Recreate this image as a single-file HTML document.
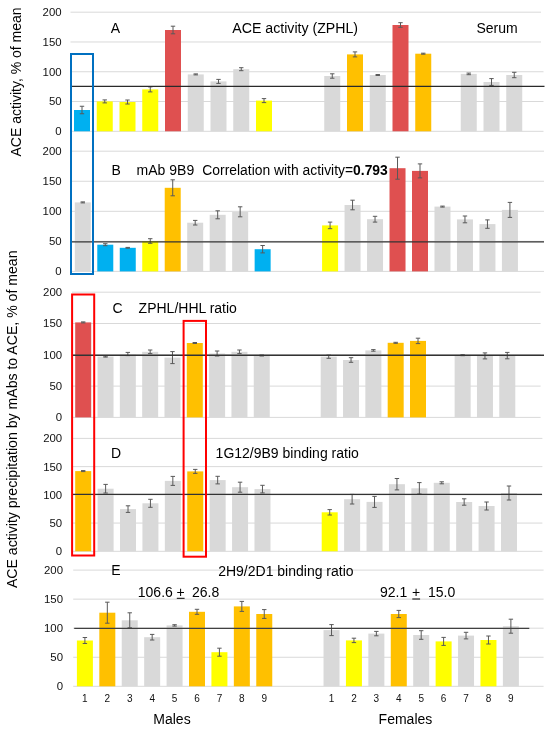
<!DOCTYPE html><html><head><meta charset="utf-8"><style>html,body{margin:0;padding:0;background:#fff;}svg{display:block;will-change:transform;filter:blur(0.3px);}text{font-family:"Liberation Sans", sans-serif;}</style></head><body>
<svg width="550" height="729" viewBox="0 0 550 729">
<rect width="550" height="729" fill="#fff"/>
<line x1="70.5" y1="131.3" x2="543.5" y2="131.3" stroke="#d9d9d9" stroke-width="1"/>
<line x1="70.5" y1="101.53" x2="543.5" y2="101.53" stroke="#d9d9d9" stroke-width="1"/>
<line x1="70.5" y1="71.75" x2="543.5" y2="71.75" stroke="#d9d9d9" stroke-width="1"/>
<line x1="70.5" y1="41.98" x2="541" y2="41.98" stroke="#d9d9d9" stroke-width="1"/>
<line x1="70.5" y1="12.2" x2="541" y2="12.2" stroke="#d9d9d9" stroke-width="1"/>
<text x="61.6" y="135.2" font-size="11.4" text-anchor="end" fill="#111">0</text>
<text x="61.6" y="105.43" font-size="11.4" text-anchor="end" fill="#111">50</text>
<text x="61.6" y="75.65" font-size="11.4" text-anchor="end" fill="#111">100</text>
<text x="61.6" y="45.88" font-size="11.4" text-anchor="end" fill="#111">150</text>
<text x="61.6" y="16.1" font-size="11.4" text-anchor="end" fill="#111">200</text>
<rect x="74" y="110" width="16" height="21.3" fill="#00b0f0"/>
<rect x="96.75" y="101.4" width="16" height="29.9" fill="#ffff00"/>
<rect x="119.5" y="102" width="16" height="29.3" fill="#ffff00"/>
<rect x="142.25" y="89.4" width="16" height="41.9" fill="#ffff00"/>
<rect x="165" y="30" width="16" height="101.3" fill="#df5050"/>
<rect x="187.75" y="74.4" width="16" height="56.9" fill="#d9d9d9"/>
<rect x="210.5" y="81.4" width="16" height="49.9" fill="#d9d9d9"/>
<rect x="233.25" y="69.2" width="16" height="62.1" fill="#d9d9d9"/>
<rect x="256" y="100.6" width="16" height="30.7" fill="#ffff00"/>
<rect x="324.25" y="76" width="16" height="55.3" fill="#d9d9d9"/>
<rect x="347" y="54.4" width="16" height="76.9" fill="#ffc000"/>
<rect x="369.75" y="75" width="16" height="56.3" fill="#d9d9d9"/>
<rect x="392.5" y="25" width="16" height="106.3" fill="#df5050"/>
<rect x="415.25" y="53.7" width="16" height="77.6" fill="#ffc000"/>
<rect x="460.75" y="73.9" width="16" height="57.4" fill="#d9d9d9"/>
<rect x="483.5" y="82" width="16" height="49.3" fill="#d9d9d9"/>
<rect x="506.25" y="75" width="16" height="56.3" fill="#d9d9d9"/>
<path d="M82 106.25V113.75M79.8 106.25H84.2M79.8 113.75H84.2" stroke="#595959" stroke-width="1" fill="none"/>
<path d="M104.75 99.9V102.9M102.55 99.9H106.95M102.55 102.9H106.95" stroke="#595959" stroke-width="1" fill="none"/>
<path d="M127.5 100V104M125.3 100H129.7M125.3 104H129.7" stroke="#595959" stroke-width="1" fill="none"/>
<path d="M150.25 86.9V91.9M148.05 86.9H152.45M148.05 91.9H152.45" stroke="#595959" stroke-width="1" fill="none"/>
<path d="M173 26.2V33.8M170.8 26.2H175.2M170.8 33.8H175.2" stroke="#595959" stroke-width="1" fill="none"/>
<path d="M195.75 73.9V74.9M193.55 73.9H197.95M193.55 74.9H197.95" stroke="#595959" stroke-width="1" fill="none"/>
<path d="M218.5 79.4V83.4M216.3 79.4H220.7M216.3 83.4H220.7" stroke="#595959" stroke-width="1" fill="none"/>
<path d="M241.25 67.7V70.7M239.05 67.7H243.45M239.05 70.7H243.45" stroke="#595959" stroke-width="1" fill="none"/>
<path d="M264 98.6V102.6M261.8 98.6H266.2M261.8 102.6H266.2" stroke="#595959" stroke-width="1" fill="none"/>
<path d="M332.25 73.8V78.2M330.05 73.8H334.45M330.05 78.2H334.45" stroke="#595959" stroke-width="1" fill="none"/>
<path d="M355 51.9V56.9M352.8 51.9H357.2M352.8 56.9H357.2" stroke="#595959" stroke-width="1" fill="none"/>
<path d="M377.75 74.5V75.5M375.55 74.5H379.95M375.55 75.5H379.95" stroke="#595959" stroke-width="1" fill="none"/>
<path d="M400.5 22.7V27.3M398.3 22.7H402.7M398.3 27.3H402.7" stroke="#595959" stroke-width="1" fill="none"/>
<path d="M423.25 53.2V54.2M421.05 53.2H425.45M421.05 54.2H425.45" stroke="#595959" stroke-width="1" fill="none"/>
<path d="M468.75 73.1V74.7M466.55 73.1H470.95M466.55 74.7H470.95" stroke="#595959" stroke-width="1" fill="none"/>
<path d="M491.5 78.6V85.4M489.3 78.6H493.7M489.3 85.4H493.7" stroke="#595959" stroke-width="1" fill="none"/>
<path d="M514.25 72.3V77.7M512.05 72.3H516.45M512.05 77.7H516.45" stroke="#595959" stroke-width="1" fill="none"/>
<line x1="71" y1="86.4" x2="544.5" y2="86.4" stroke="#2a2a2a" stroke-width="1.4"/>
<line x1="70.5" y1="271.4" x2="544" y2="271.4" stroke="#d9d9d9" stroke-width="1"/>
<line x1="70.5" y1="241.35" x2="544" y2="241.35" stroke="#d9d9d9" stroke-width="1"/>
<line x1="70.5" y1="211.3" x2="544" y2="211.3" stroke="#d9d9d9" stroke-width="1"/>
<line x1="70.5" y1="181.25" x2="544" y2="181.25" stroke="#d9d9d9" stroke-width="1"/>
<line x1="70.5" y1="151.2" x2="544" y2="151.2" stroke="#d9d9d9" stroke-width="1"/>
<text x="61.6" y="275.3" font-size="11.4" text-anchor="end" fill="#111">0</text>
<text x="61.6" y="245.25" font-size="11.4" text-anchor="end" fill="#111">50</text>
<text x="61.6" y="215.2" font-size="11.4" text-anchor="end" fill="#111">100</text>
<text x="61.6" y="185.15" font-size="11.4" text-anchor="end" fill="#111">150</text>
<text x="61.6" y="155.1" font-size="11.4" text-anchor="end" fill="#111">200</text>
<rect x="74.8" y="202.4" width="16" height="69" fill="#d9d9d9"/>
<rect x="97.28" y="244.7" width="16" height="26.7" fill="#00b0f0"/>
<rect x="119.76" y="247.8" width="16" height="23.6" fill="#00b0f0"/>
<rect x="142.24" y="241" width="16" height="30.4" fill="#ffff00"/>
<rect x="164.72" y="187.8" width="16" height="83.6" fill="#ffc000"/>
<rect x="187.2" y="222.7" width="16" height="48.7" fill="#d9d9d9"/>
<rect x="209.68" y="214.8" width="16" height="56.6" fill="#d9d9d9"/>
<rect x="232.16" y="211.8" width="16" height="59.6" fill="#d9d9d9"/>
<rect x="254.64" y="249.2" width="16" height="22.2" fill="#00b0f0"/>
<rect x="322.08" y="225.4" width="16" height="46" fill="#ffff00"/>
<rect x="344.56" y="205" width="16" height="66.4" fill="#d9d9d9"/>
<rect x="367.04" y="219.2" width="16" height="52.2" fill="#d9d9d9"/>
<rect x="389.52" y="168.2" width="16" height="103.2" fill="#df5050"/>
<rect x="412" y="170.9" width="16" height="100.5" fill="#df5050"/>
<rect x="434.48" y="206.6" width="16" height="64.8" fill="#d9d9d9"/>
<rect x="456.96" y="219.4" width="16" height="52" fill="#d9d9d9"/>
<rect x="479.44" y="224.1" width="16" height="47.3" fill="#d9d9d9"/>
<rect x="501.92" y="209.9" width="16" height="61.5" fill="#d9d9d9"/>
<path d="M82.8 201.9V202.9M80.6 201.9H85M80.6 202.9H85" stroke="#595959" stroke-width="1" fill="none"/>
<path d="M105.28 243.7V245.7M103.08 243.7H107.48M103.08 245.7H107.48" stroke="#595959" stroke-width="1" fill="none"/>
<path d="M127.76 247.4V248.2M125.56 247.4H129.96M125.56 248.2H129.96" stroke="#595959" stroke-width="1" fill="none"/>
<path d="M150.24 238.7V243.3M148.04 238.7H152.44M148.04 243.3H152.44" stroke="#595959" stroke-width="1" fill="none"/>
<path d="M172.72 179.8V195.8M170.52 179.8H174.92M170.52 195.8H174.92" stroke="#595959" stroke-width="1" fill="none"/>
<path d="M195.2 220.4V225M193 220.4H197.4M193 225H197.4" stroke="#595959" stroke-width="1" fill="none"/>
<path d="M217.68 210.8V218.8M215.48 210.8H219.88M215.48 218.8H219.88" stroke="#595959" stroke-width="1" fill="none"/>
<path d="M240.16 206.8V216.8M237.96 206.8H242.36M237.96 216.8H242.36" stroke="#595959" stroke-width="1" fill="none"/>
<path d="M262.64 245.5V252.9M260.44 245.5H264.84M260.44 252.9H264.84" stroke="#595959" stroke-width="1" fill="none"/>
<path d="M330.08 222.1V228.7M327.88 222.1H332.28M327.88 228.7H332.28" stroke="#595959" stroke-width="1" fill="none"/>
<path d="M352.56 200.2V209.8M350.36 200.2H354.76M350.36 209.8H354.76" stroke="#595959" stroke-width="1" fill="none"/>
<path d="M375.04 216.3V222.1M372.84 216.3H377.24M372.84 222.1H377.24" stroke="#595959" stroke-width="1" fill="none"/>
<path d="M397.52 157.2V179.2M395.32 157.2H399.72M395.32 179.2H399.72" stroke="#595959" stroke-width="1" fill="none"/>
<path d="M420 163.9V177.9M417.8 163.9H422.2M417.8 177.9H422.2" stroke="#595959" stroke-width="1" fill="none"/>
<path d="M442.48 206.1V207.1M440.28 206.1H444.68M440.28 207.1H444.68" stroke="#595959" stroke-width="1" fill="none"/>
<path d="M464.96 216V222.8M462.76 216H467.16M462.76 222.8H467.16" stroke="#595959" stroke-width="1" fill="none"/>
<path d="M487.44 219.9V228.3M485.24 219.9H489.64M485.24 228.3H489.64" stroke="#595959" stroke-width="1" fill="none"/>
<path d="M509.92 202.4V217.4M507.72 202.4H512.12M507.72 217.4H512.12" stroke="#595959" stroke-width="1" fill="none"/>
<line x1="71" y1="241.9" x2="544" y2="241.9" stroke="#333333" stroke-width="1.35"/>
<line x1="72" y1="417.4" x2="540.6" y2="417.4" stroke="#d9d9d9" stroke-width="1"/>
<line x1="72" y1="386.1" x2="540.6" y2="386.1" stroke="#d9d9d9" stroke-width="1"/>
<line x1="72" y1="354.8" x2="540.6" y2="354.8" stroke="#d9d9d9" stroke-width="1"/>
<line x1="72" y1="323.5" x2="540.6" y2="323.5" stroke="#d9d9d9" stroke-width="1"/>
<line x1="72" y1="292.2" x2="540.6" y2="292.2" stroke="#d9d9d9" stroke-width="1"/>
<text x="62.1" y="421.3" font-size="11.4" text-anchor="end" fill="#111">0</text>
<text x="62.1" y="390" font-size="11.4" text-anchor="end" fill="#111">50</text>
<text x="62.1" y="358.7" font-size="11.4" text-anchor="end" fill="#111">100</text>
<text x="62.1" y="327.4" font-size="11.4" text-anchor="end" fill="#111">150</text>
<text x="62.1" y="296.1" font-size="11.4" text-anchor="end" fill="#111">200</text>
<rect x="75.2" y="322.4" width="16" height="95" fill="#df5050"/>
<rect x="97.52" y="356.6" width="16" height="60.8" fill="#d9d9d9"/>
<rect x="119.84" y="354" width="16" height="63.4" fill="#d9d9d9"/>
<rect x="142.16" y="351.8" width="16" height="65.6" fill="#d9d9d9"/>
<rect x="164.48" y="357.6" width="16" height="59.8" fill="#d9d9d9"/>
<rect x="186.8" y="343" width="16" height="74.4" fill="#ffc000"/>
<rect x="209.12" y="353.5" width="16" height="63.9" fill="#d9d9d9"/>
<rect x="231.44" y="351.8" width="16" height="65.6" fill="#d9d9d9"/>
<rect x="253.76" y="355.5" width="16" height="61.9" fill="#d9d9d9"/>
<rect x="320.72" y="356.7" width="16" height="60.7" fill="#d9d9d9"/>
<rect x="343.04" y="360" width="16" height="57.4" fill="#d9d9d9"/>
<rect x="365.36" y="350.4" width="16" height="67" fill="#d9d9d9"/>
<rect x="387.68" y="342.8" width="16" height="74.6" fill="#ffc000"/>
<rect x="410" y="340.9" width="16" height="76.5" fill="#ffc000"/>
<rect x="454.64" y="355.2" width="16" height="62.2" fill="#d9d9d9"/>
<rect x="476.96" y="355.9" width="16" height="61.5" fill="#d9d9d9"/>
<rect x="499.28" y="355.6" width="16" height="61.8" fill="#d9d9d9"/>
<path d="M83.2 321.9V322.9M81 321.9H85.4M81 322.9H85.4" stroke="#595959" stroke-width="1" fill="none"/>
<path d="M105.52 356.1V357.1M103.32 356.1H107.72M103.32 357.1H107.72" stroke="#595959" stroke-width="1" fill="none"/>
<path d="M127.84 352.4V355.6M125.64 352.4H130.04M125.64 355.6H130.04" stroke="#595959" stroke-width="1" fill="none"/>
<path d="M150.16 350V353.6M147.96 350H152.36M147.96 353.6H152.36" stroke="#595959" stroke-width="1" fill="none"/>
<path d="M172.48 351.6V363.6M170.28 351.6H174.68M170.28 363.6H174.68" stroke="#595959" stroke-width="1" fill="none"/>
<path d="M194.8 342.5V343.5M192.6 342.5H197M192.6 343.5H197" stroke="#595959" stroke-width="1" fill="none"/>
<path d="M217.12 351V356M214.92 351H219.32M214.92 356H219.32" stroke="#595959" stroke-width="1" fill="none"/>
<path d="M239.44 350V353.6M237.24 350H241.64M237.24 353.6H241.64" stroke="#595959" stroke-width="1" fill="none"/>
<path d="M261.76 355V356M259.56 355H263.96M259.56 356H263.96" stroke="#595959" stroke-width="1" fill="none"/>
<path d="M328.72 355.1V358.3M326.52 355.1H330.92M326.52 358.3H330.92" stroke="#595959" stroke-width="1" fill="none"/>
<path d="M351.04 357.7V362.3M348.84 357.7H353.24M348.84 362.3H353.24" stroke="#595959" stroke-width="1" fill="none"/>
<path d="M373.36 349.6V351.2M371.16 349.6H375.56M371.16 351.2H375.56" stroke="#595959" stroke-width="1" fill="none"/>
<path d="M395.68 342.3V343.3M393.48 342.3H397.88M393.48 343.3H397.88" stroke="#595959" stroke-width="1" fill="none"/>
<path d="M418 338.2V343.6M415.8 338.2H420.2M415.8 343.6H420.2" stroke="#595959" stroke-width="1" fill="none"/>
<path d="M462.64 354.7V355.7M460.44 354.7H464.84M460.44 355.7H464.84" stroke="#595959" stroke-width="1" fill="none"/>
<path d="M484.96 352.9V358.9M482.76 352.9H487.16M482.76 358.9H487.16" stroke="#595959" stroke-width="1" fill="none"/>
<path d="M507.28 352.4V358.8M505.08 352.4H509.48M505.08 358.8H509.48" stroke="#595959" stroke-width="1" fill="none"/>
<line x1="72" y1="355.2" x2="544" y2="355.2" stroke="#333333" stroke-width="1.35"/>
<line x1="72" y1="551.3" x2="542.4" y2="551.3" stroke="#d9d9d9" stroke-width="1"/>
<line x1="72" y1="523.07" x2="542.4" y2="523.07" stroke="#d9d9d9" stroke-width="1"/>
<line x1="72" y1="494.85" x2="542.4" y2="494.85" stroke="#d9d9d9" stroke-width="1"/>
<line x1="72" y1="466.62" x2="542.4" y2="466.62" stroke="#d9d9d9" stroke-width="1"/>
<line x1="72" y1="438.4" x2="542.4" y2="438.4" stroke="#d9d9d9" stroke-width="1"/>
<text x="62.2" y="555.2" font-size="11.4" text-anchor="end" fill="#111">0</text>
<text x="62.2" y="526.97" font-size="11.4" text-anchor="end" fill="#111">50</text>
<text x="62.2" y="498.75" font-size="11.4" text-anchor="end" fill="#111">100</text>
<text x="62.2" y="470.52" font-size="11.4" text-anchor="end" fill="#111">150</text>
<text x="62.2" y="442.3" font-size="11.4" text-anchor="end" fill="#111">200</text>
<rect x="75.2" y="471.1" width="16" height="80.2" fill="#ffc000"/>
<rect x="97.61" y="488.7" width="16" height="62.6" fill="#d9d9d9"/>
<rect x="120.02" y="509.1" width="16" height="42.2" fill="#d9d9d9"/>
<rect x="142.43" y="503.3" width="16" height="48" fill="#d9d9d9"/>
<rect x="164.84" y="480.9" width="16" height="70.4" fill="#d9d9d9"/>
<rect x="187.25" y="471.4" width="16" height="79.9" fill="#ffc000"/>
<rect x="209.66" y="480.1" width="16" height="71.2" fill="#d9d9d9"/>
<rect x="232.07" y="487.2" width="16" height="64.1" fill="#d9d9d9"/>
<rect x="254.48" y="489.1" width="16" height="62.2" fill="#d9d9d9"/>
<rect x="321.71" y="512.3" width="16" height="39" fill="#ffff00"/>
<rect x="344.12" y="499.2" width="16" height="52.1" fill="#d9d9d9"/>
<rect x="366.53" y="501.9" width="16" height="49.4" fill="#d9d9d9"/>
<rect x="388.94" y="484.2" width="16" height="67.1" fill="#d9d9d9"/>
<rect x="411.35" y="488.3" width="16" height="63" fill="#d9d9d9"/>
<rect x="433.76" y="482.8" width="16" height="68.5" fill="#d9d9d9"/>
<rect x="456.17" y="502" width="16" height="49.3" fill="#d9d9d9"/>
<rect x="478.58" y="506" width="16" height="45.3" fill="#d9d9d9"/>
<rect x="500.99" y="493" width="16" height="58.3" fill="#d9d9d9"/>
<path d="M83.2 470.6V471.6M81 470.6H85.4M81 471.6H85.4" stroke="#595959" stroke-width="1" fill="none"/>
<path d="M105.61 484.4V493M103.41 484.4H107.81M103.41 493H107.81" stroke="#595959" stroke-width="1" fill="none"/>
<path d="M128.02 505.8V512.4M125.82 505.8H130.22M125.82 512.4H130.22" stroke="#595959" stroke-width="1" fill="none"/>
<path d="M150.43 499.3V507.3M148.23 499.3H152.63M148.23 507.3H152.63" stroke="#595959" stroke-width="1" fill="none"/>
<path d="M172.84 476.4V485.4M170.64 476.4H175.04M170.64 485.4H175.04" stroke="#595959" stroke-width="1" fill="none"/>
<path d="M195.25 469.4V473.4M193.05 469.4H197.45M193.05 473.4H197.45" stroke="#595959" stroke-width="1" fill="none"/>
<path d="M217.66 476.3V483.9M215.46 476.3H219.86M215.46 483.9H219.86" stroke="#595959" stroke-width="1" fill="none"/>
<path d="M240.07 482.2V492.2M237.87 482.2H242.27M237.87 492.2H242.27" stroke="#595959" stroke-width="1" fill="none"/>
<path d="M262.48 485.3V492.9M260.28 485.3H264.68M260.28 492.9H264.68" stroke="#595959" stroke-width="1" fill="none"/>
<path d="M329.71 509.6V515M327.51 509.6H331.91M327.51 515H331.91" stroke="#595959" stroke-width="1" fill="none"/>
<path d="M352.12 494.4V504M349.92 494.4H354.32M349.92 504H354.32" stroke="#595959" stroke-width="1" fill="none"/>
<path d="M374.53 496.4V507.4M372.33 496.4H376.73M372.33 507.4H376.73" stroke="#595959" stroke-width="1" fill="none"/>
<path d="M396.94 478.5V489.9M394.74 478.5H399.14M394.74 489.9H399.14" stroke="#595959" stroke-width="1" fill="none"/>
<path d="M419.35 482.6V494M417.15 482.6H421.55M417.15 494H421.55" stroke="#595959" stroke-width="1" fill="none"/>
<path d="M441.76 481.8V483.8M439.56 481.8H443.96M439.56 483.8H443.96" stroke="#595959" stroke-width="1" fill="none"/>
<path d="M464.17 498.8V505.2M461.97 498.8H466.37M461.97 505.2H466.37" stroke="#595959" stroke-width="1" fill="none"/>
<path d="M486.58 502V510M484.38 502H488.78M484.38 510H488.78" stroke="#595959" stroke-width="1" fill="none"/>
<path d="M508.99 486V500M506.79 486H511.19M506.79 500H511.19" stroke="#595959" stroke-width="1" fill="none"/>
<line x1="72" y1="494.3" x2="542" y2="494.3" stroke="#333333" stroke-width="1.35"/>
<line x1="73.2" y1="686.3" x2="543.6" y2="686.3" stroke="#d9d9d9" stroke-width="1"/>
<line x1="73.2" y1="657.25" x2="543.6" y2="657.25" stroke="#d9d9d9" stroke-width="1"/>
<line x1="73.2" y1="628.2" x2="543.6" y2="628.2" stroke="#d9d9d9" stroke-width="1"/>
<line x1="73.2" y1="599.15" x2="543.6" y2="599.15" stroke="#d9d9d9" stroke-width="1"/>
<line x1="73.2" y1="570.1" x2="543.6" y2="570.1" stroke="#d9d9d9" stroke-width="1"/>
<text x="63" y="690.2" font-size="11.4" text-anchor="end" fill="#111">0</text>
<text x="63" y="661.15" font-size="11.4" text-anchor="end" fill="#111">50</text>
<text x="63" y="632.1" font-size="11.4" text-anchor="end" fill="#111">100</text>
<text x="63" y="603.05" font-size="11.4" text-anchor="end" fill="#111">150</text>
<text x="63" y="574" font-size="11.4" text-anchor="end" fill="#111">200</text>
<rect x="76.9" y="640.5" width="16" height="45.8" fill="#ffff00"/>
<rect x="99.32" y="612.7" width="16" height="73.6" fill="#ffc000"/>
<rect x="121.74" y="620.3" width="16" height="66" fill="#d9d9d9"/>
<rect x="144.16" y="637.2" width="16" height="49.1" fill="#d9d9d9"/>
<rect x="166.58" y="625.4" width="16" height="60.9" fill="#d9d9d9"/>
<rect x="189" y="611.8" width="16" height="74.5" fill="#ffc000"/>
<rect x="211.42" y="652.2" width="16" height="34.1" fill="#ffff00"/>
<rect x="233.84" y="606.4" width="16" height="79.9" fill="#ffc000"/>
<rect x="256.26" y="614" width="16" height="72.3" fill="#ffc000"/>
<rect x="323.52" y="630.1" width="16" height="56.2" fill="#d9d9d9"/>
<rect x="345.94" y="640.4" width="16" height="45.9" fill="#ffff00"/>
<rect x="368.36" y="633.6" width="16" height="52.7" fill="#d9d9d9"/>
<rect x="390.78" y="614" width="16" height="72.3" fill="#ffc000"/>
<rect x="413.2" y="635" width="16" height="51.3" fill="#d9d9d9"/>
<rect x="435.62" y="641.4" width="16" height="44.9" fill="#ffff00"/>
<rect x="458.04" y="635.6" width="16" height="50.7" fill="#d9d9d9"/>
<rect x="480.46" y="640" width="16" height="46.3" fill="#ffff00"/>
<rect x="502.88" y="626.2" width="16" height="60.1" fill="#d9d9d9"/>
<path d="M84.9 637.5V643.5M82.7 637.5H87.1M82.7 643.5H87.1" stroke="#595959" stroke-width="1" fill="none"/>
<path d="M107.32 602.2V623.2M105.12 602.2H109.52M105.12 623.2H109.52" stroke="#595959" stroke-width="1" fill="none"/>
<path d="M129.74 612.8V627.8M127.54 612.8H131.94M127.54 627.8H131.94" stroke="#595959" stroke-width="1" fill="none"/>
<path d="M152.16 634.4V640M149.96 634.4H154.36M149.96 640H154.36" stroke="#595959" stroke-width="1" fill="none"/>
<path d="M174.58 624.7V626.1M172.38 624.7H176.78M172.38 626.1H176.78" stroke="#595959" stroke-width="1" fill="none"/>
<path d="M197 609.3V614.3M194.8 609.3H199.2M194.8 614.3H199.2" stroke="#595959" stroke-width="1" fill="none"/>
<path d="M219.42 648.2V656.2M217.22 648.2H221.62M217.22 656.2H221.62" stroke="#595959" stroke-width="1" fill="none"/>
<path d="M241.84 601.4V611.4M239.64 601.4H244.04M239.64 611.4H244.04" stroke="#595959" stroke-width="1" fill="none"/>
<path d="M264.26 609.6V618.4M262.06 609.6H266.46M262.06 618.4H266.46" stroke="#595959" stroke-width="1" fill="none"/>
<path d="M331.52 624.6V635.6M329.32 624.6H333.72M329.32 635.6H333.72" stroke="#595959" stroke-width="1" fill="none"/>
<path d="M353.94 638.2V642.6M351.74 638.2H356.14M351.74 642.6H356.14" stroke="#595959" stroke-width="1" fill="none"/>
<path d="M376.36 631.4V635.8M374.16 631.4H378.56M374.16 635.8H378.56" stroke="#595959" stroke-width="1" fill="none"/>
<path d="M398.78 610.4V617.6M396.58 610.4H400.98M396.58 617.6H400.98" stroke="#595959" stroke-width="1" fill="none"/>
<path d="M421.2 630.7V639.3M419 630.7H423.4M419 639.3H423.4" stroke="#595959" stroke-width="1" fill="none"/>
<path d="M443.62 637.4V645.4M441.42 637.4H445.82M441.42 645.4H445.82" stroke="#595959" stroke-width="1" fill="none"/>
<path d="M466.04 632.3V638.9M463.84 632.3H468.24M463.84 638.9H468.24" stroke="#595959" stroke-width="1" fill="none"/>
<path d="M488.46 636V644M486.26 636H490.66M486.26 644H490.66" stroke="#595959" stroke-width="1" fill="none"/>
<path d="M510.88 619.2V633.2M508.68 619.2H513.08M508.68 633.2H513.08" stroke="#595959" stroke-width="1" fill="none"/>
<line x1="74.2" y1="628.3" x2="529.3" y2="628.3" stroke="#404040" stroke-width="1.35"/>
<rect x="71" y="54" width="22" height="220" fill="none" stroke="#0070c0" stroke-width="2"/>
<rect x="72.1" y="294.5" width="22.1" height="261" fill="none" stroke="#ff0000" stroke-width="2"/>
<rect x="183.6" y="320.9" width="22.4" height="235.8" fill="none" stroke="#ff0000" stroke-width="2"/>
<text x="110.8" y="33" font-size="14" fill="#000" >A</text>
<text x="232.3" y="33" font-size="14.15" fill="#000" >ACE activity (ZPHL)</text>
<text x="476.5" y="33.3" font-size="14" fill="#000" >Serum</text>
<text x="111.4" y="174.6" font-size="14" fill="#000" >B</text>
<text x="136.6" y="174.6" font-size="14" fill="#000" >mAb 9B9</text>
<text x="202.3" y="174.6" font-size="13.88" fill="#000" >Correlation with activity=<tspan font-weight="bold">0.793</tspan></text>
<text x="112.6" y="313.4" font-size="14" fill="#000" >C</text>
<text x="138.6" y="313.4" font-size="14" fill="#000" >ZPHL/HHL ratio</text>
<text x="111" y="457.9" font-size="14" fill="#000" >D</text>
<text x="215.6" y="457.7" font-size="14" fill="#000" >1G12/9B9 binding ratio</text>
<text x="111.2" y="575.3" font-size="14" fill="#000" >E</text>
<text x="218.2" y="575.5" font-size="14" fill="#000" >2H9/2D1 binding ratio</text>
<text x="137.8" y="596.8" font-size="14" fill="#000" >106.6</text>
<text x="176.5" y="596.8" font-size="14" fill="#000" >+</text>
<text x="192" y="596.8" font-size="14" fill="#000" >26.8</text>
<text x="380" y="597" font-size="14" fill="#000" >92.1</text>
<line x1="176.8" y1="598.3" x2="184.6" y2="598.3" stroke="#000" stroke-width="1"/>
<text x="412" y="597" font-size="14" fill="#000">+</text>
<line x1="412.3" y1="599" x2="420.1" y2="599" stroke="#000" stroke-width="1"/>
<text x="428" y="597" font-size="14" fill="#000">15.0</text>
<text x="84.9" y="701.8" font-size="10" text-anchor="middle" fill="#111">1</text>
<text x="107.32" y="701.8" font-size="10" text-anchor="middle" fill="#111">2</text>
<text x="129.74" y="701.8" font-size="10" text-anchor="middle" fill="#111">3</text>
<text x="152.16" y="701.8" font-size="10" text-anchor="middle" fill="#111">4</text>
<text x="174.58" y="701.8" font-size="10" text-anchor="middle" fill="#111">5</text>
<text x="197" y="701.8" font-size="10" text-anchor="middle" fill="#111">6</text>
<text x="219.42" y="701.8" font-size="10" text-anchor="middle" fill="#111">7</text>
<text x="241.84" y="701.8" font-size="10" text-anchor="middle" fill="#111">8</text>
<text x="264.26" y="701.8" font-size="10" text-anchor="middle" fill="#111">9</text>
<text x="331.52" y="701.8" font-size="10" text-anchor="middle" fill="#111">1</text>
<text x="353.94" y="701.8" font-size="10" text-anchor="middle" fill="#111">2</text>
<text x="376.36" y="701.8" font-size="10" text-anchor="middle" fill="#111">3</text>
<text x="398.78" y="701.8" font-size="10" text-anchor="middle" fill="#111">4</text>
<text x="421.2" y="701.8" font-size="10" text-anchor="middle" fill="#111">5</text>
<text x="443.62" y="701.8" font-size="10" text-anchor="middle" fill="#111">6</text>
<text x="466.04" y="701.8" font-size="10" text-anchor="middle" fill="#111">7</text>
<text x="488.46" y="701.8" font-size="10" text-anchor="middle" fill="#111">8</text>
<text x="510.88" y="701.8" font-size="10" text-anchor="middle" fill="#111">9</text>
<text x="153.3" y="724" font-size="14" fill="#000" >Males</text>
<text x="378.6" y="724" font-size="14" fill="#000" >Females</text>
<text transform="translate(21,156.5) rotate(-90)" font-size="14" fill="#000">ACE activity, % of mean</text>
<text transform="translate(17,588.1) rotate(-90)" font-size="14.1" fill="#000">ACE activity precipitation by mAbs to ACE, % of mean</text>
</svg></body></html>
